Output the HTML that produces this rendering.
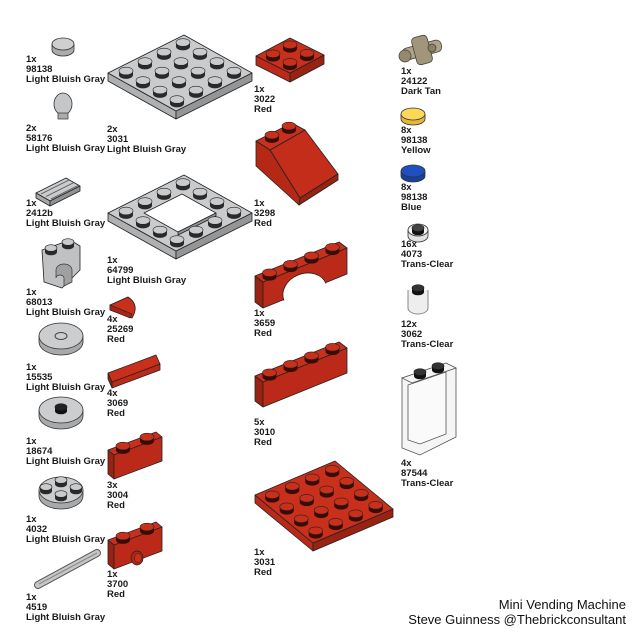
<!DOCTYPE html>
<html><head><meta charset="utf-8">
<style>
body{margin:0;background:#fff;width:640px;height:640px;overflow:hidden;position:relative;font-family:"Liberation Sans",sans-serif}
svg{position:absolute;left:0;top:0}
.l{position:absolute;font-weight:bold;font-size:9.5px;line-height:10px;color:#1a1a1a;white-space:nowrap}
.f{position:absolute;right:14px;font-size:13px;line-height:15px;color:#111;text-align:right;white-space:nowrap}
</style></head><body>
<svg id="s" width="640" height="640" viewBox="0 0 640 640"></svg>

<div class="l" style="left:26px;top:55px">1x<br>98138<br>Light Bluish Gray</div>
<div class="l" style="left:26px;top:124px">2x<br>58176<br>Light Bluish Gray</div>
<div class="l" style="left:107px;top:125px">2x<br>3031<br>Light Bluish Gray</div>
<div class="l" style="left:26px;top:199px">1x<br>2412b<br>Light Bluish Gray</div>
<div class="l" style="left:107px;top:256px">1x<br>64799<br>Light Bluish Gray</div>
<div class="l" style="left:26px;top:288px">1x<br>68013<br>Light Bluish Gray</div>
<div class="l" style="left:107px;top:315px">4x<br>25269<br>Red</div>
<div class="l" style="left:26px;top:363px">1x<br>15535<br>Light Bluish Gray</div>
<div class="l" style="left:107px;top:389px">4x<br>3069<br>Red</div>
<div class="l" style="left:26px;top:437px">1x<br>18674<br>Light Bluish Gray</div>
<div class="l" style="left:107px;top:481px">3x<br>3004<br>Red</div>
<div class="l" style="left:26px;top:515px">1x<br>4032<br>Light Bluish Gray</div>
<div class="l" style="left:107px;top:570px">1x<br>3700<br>Red</div>
<div class="l" style="left:26px;top:593px">1x<br>4519<br>Light Bluish Gray</div>

<div class="l" style="left:254px;top:85px">1x<br>3022<br>Red</div>
<div class="l" style="left:254px;top:199px">1x<br>3298<br>Red</div>
<div class="l" style="left:254px;top:309px">1x<br>3659<br>Red</div>
<div class="l" style="left:254px;top:418px">5x<br>3010<br>Red</div>
<div class="l" style="left:254px;top:548px">1x<br>3031<br>Red</div>

<div class="l" style="left:401px;top:67px">1x<br>24122<br>Dark Tan</div>
<div class="l" style="left:401px;top:126px">8x<br>98138<br>Yellow</div>
<div class="l" style="left:401px;top:183px">8x<br>98138<br>Blue</div>
<div class="l" style="left:401px;top:240px">16x<br>4073<br>Trans-Clear</div>
<div class="l" style="left:401px;top:320px">12x<br>3062<br>Trans-Clear</div>
<div class="l" style="left:401px;top:459px">4x<br>87544<br>Trans-Clear</div>

<div class="f" style="top:597px">Mini Vending Machine</div>
<div class="f" style="top:612px">Steve Guinness @Thebrickconsultant</div>

<script>
var o=[];
var G={t:"#c9cbcd",f:"#aeb0b2",s:"#939597",d:"#2a2a2a"};
var R={t:"#c9301c",f:"#bb2a18",s:"#9a2212",d:"#3a0c06"};
function P(p){return p.map(function(q){return q[0].toFixed(1)+","+q[1].toFixed(1)}).join(" ")}
function poly(p,f){o.push('<polygon points="'+P(p)+'" fill="'+f+'" stroke="#222" stroke-width="0.8" stroke-linejoin="round"/>')}
function ad(v,w,k){return [v[0]+w[0]*k,v[1]+w[1]*k]}
function stud(x,y,r,c){
 var ry=r*0.55;
 o.push('<ellipse cx="'+x+'" cy="'+y+'" rx="'+r+'" ry="'+ry+'" fill="'+c.d+'"/>');
 o.push('<rect x="'+(x-r)+'" y="'+(y-4)+'" width="'+(2*r)+'" height="4" fill="'+c.d+'"/>');
 o.push('<ellipse cx="'+x+'" cy="'+(y-4)+'" rx="'+r+'" ry="'+ry+'" fill="'+c.t+'" stroke="#222" stroke-width="0.6"/>');
}
function studsOn(P0,a,na,b,nb,r,c,skip){
  var L=[];
  for(var j=0;j<nb;j++)for(var i=0;i<na;i++){
   if(skip&&i>0&&i<na-1&&j>0&&j<nb-1)continue;
   L.push(ad(ad(P0,a,i+.5),b,j+.5));}
  L.sort(function(u,v){return u[1]-v[1]});
  L.forEach(function(q){stud(q[0],q[1]+2,r,c)});
}
function box(P0,a,na,b,nb,h,c,studs,r,skip){
 var P1=ad(P0,a,na),P2=ad(P1,b,nb),P3=ad(P0,b,nb),H=[0,h];
 poly([P0,P1,ad(P1,H,1),ad(P0,H,1)],c.f);
 poly([P1,P2,ad(P2,H,1),ad(P1,H,1)],c.s);
 poly([P0,P1,P2,P3],c.t);
 if(skip){var q=ad(ad(P0,a,1),b,1);poly([q,ad(q,a,2),ad(ad(q,a,2),b,2),ad(q,b,2)],"#fff");
   poly([ad(q,a,2),ad(ad(q,a,2),b,2),ad(ad(ad(q,a,2),b,2),[0,3],1),ad(ad(q,a,2),[0,3],1)],c.s);}
 if(studs)studsOn(P0,a,na,b,nb,r,c,skip);
}
function box2(P0,a,na,b,nb,h,c,studs,r){
 var P1=ad(P0,a,na),P2=ad(P1,b,nb),P3=ad(P0,b,nb),H=[0,h];
 poly([P3,P0,ad(P0,H,1),ad(P3,H,1)],c.s);
 poly([P0,P1,ad(P1,H,1),ad(P0,H,1)],c.f);
 poly([P0,P1,P2,P3],c.t);
 if(studs)studsOn(P0,a,na,b,nb,r,c);
}
function cyl(cx,cy,rx,ry,h,t,s){
 o.push('<path d="M'+(cx-rx)+','+cy+' v'+h+' a'+rx+','+ry+' 0 0 0 '+(2*rx)+',0 v'+(-h)+'" fill="'+s+'" stroke="#333" stroke-width="0.8"/>');
 o.push('<ellipse cx="'+cx+'" cy="'+cy+'" rx="'+rx+'" ry="'+ry+'" fill="'+t+'" stroke="#333" stroke-width="0.8"/>');
}
box([108,73],[17,9.5],4,[19,-9.5],4,8,G,1,7);
box([108,213],[17,9.5],4,[19,-9.5],4,8,G,1,7,1);
box([256,56],[17,8.5],2,[17,-9],2,9,R,1,7);
box([255,495],[14.5,12],4,[20,-8.5],4,8,R,1,7);
box2([263,382],[21,-8.5],4,[-8,-6],1,25,R,1,7);
box2([263,282],[21,-8.5],4,[-8,-6],1,26,R,1,7);
o.push('<path d="M284,300.5 A21,17 -22 0 1 326,283.5 L327,284 L285,302 Z" fill="#fff"/>');
o.push('<path d="M284,300.5 A21,17 -22 0 1 326,283.5" fill="none" stroke="#222" stroke-width="0.8"/>');
box2([114,455],[24,-9],2,[-6,-5],1,24,R,1,7);
box2([114,545],[24,-9],2,[-6,-5],1,24,R,1,7);
o.push('<ellipse cx="137" cy="558" rx="6" ry="7" fill="#b02616" stroke="#222" stroke-width="0.7"/><ellipse cx="138" cy="558" rx="3.5" ry="4.5" fill="#c9301c" stroke="#222" stroke-width="0.5"/>');
box2([112,382],[24,-9],2,[-4,-9],1,6,R,0);
o.push('<path d="M110,305 L128,297 Q140,305 132,318 L110,310 Z" fill="#c9301c" stroke="#222" stroke-width="0.8"/><path d="M110,305 v5 L130,318 L132,314 Z" fill="#a82414" stroke="#222" stroke-width="0.6"/>');
poly([[256,141],[270,150],[300,198],[299,205],[256,166]],"#b52815");
poly([[270,150],[305,130],[338,174],[300,198]],"#c42d1a");
poly([[256,141],[292,123],[305,130],[270,150]],"#c9301c");
poly([[300,198],[338,174],[338,180],[299,205]],"#9a2212");
stud(272,139,7,R);stud(289,130,7,R);
cyl(63,44,11,6,6,"#cdcfd1","#a9abad");
o.push('<ellipse cx="63" cy="104" rx="9" ry="11" fill="#c4c6c8" stroke="#333" stroke-width="0.8"/><rect x="58" y="113" width="10" height="6" fill="#a9abad" stroke="#333" stroke-width="0.7"/>');
poly([[36,193],[66,178],[80,186],[50,201]],"#c9cbcd");
poly([[36,193],[50,201],[50,206],[36,198]],"#a5a7a9");
poly([[50,201],[80,186],[80,191],[50,206]],"#8f9193");
for(var k=0;k<3;k++){o.push('<line x1="'+(41+k*5)+'" y1="'+(194+k*2.5)+'" x2="'+(69+k*5)+'" y2="'+(180+k*2.5)+'" stroke="#555" stroke-width="0.8"/>');}
poly([[42,250],[70,240],[80,246],[80,270],[62,288],[44,282]],"#bfc1c3");
o.push('<path d="M56,270 a8,6 0 0 1 16,0 v12 l-8,4 v-8 a4,3 0 0 0 -8,0 z" fill="#9ea0a2" stroke="#333" stroke-width="0.7"/>');
stud(51,252,6,G);stud(68,246,6,G);
cyl(61,336,22,13,6,"#cbcdcf","#a7a9ab");o.push('<ellipse cx="61" cy="336" rx="6" ry="3.5" fill="none" stroke="#444"/>');
cyl(61,410,22,13,6,"#cbcdcf","#a7a9ab");stud(61,411,6,{d:"#111",t:"#222"});
cyl(61,490,22,13,6,"#cbcdcf","#a7a9ab");
stud(61,484,6,G);stud(46,491,6,G);stud(76,491,6,G);stud(61,498,6,G);
o.push('<line x1="38" y1="585" x2="97" y2="553" stroke="#555" stroke-width="8" stroke-linecap="round"/><line x1="38" y1="585" x2="97" y2="553" stroke="#c4c6c8" stroke-width="6" stroke-linecap="round"/><line x1="39" y1="584" x2="97" y2="553" stroke="#888" stroke-width="1"/>');
o.push('<g stroke="#444" stroke-width="0.8"><rect x="402" y="44" width="40" height="12" rx="5" fill="#b0a488" transform="rotate(-15 422 50)"/><rect x="414" y="36" width="16" height="28" rx="4" fill="#a1957a" transform="rotate(-15 422 50)"/><circle cx="405" cy="56" r="6" fill="#958a70"/><circle cx="432" cy="48" r="4" fill="#8a8068"/></g>');
cyl(413,114,12,6,5,"#fbd85a","#e3b838");
cyl(413,171,12,6,5,"#1f4fc0","#173f9e");
cyl(418,230,10,6,6,"#f4f4f4","#e2e2e2");stud(418,232,6,{d:"#111",t:"#444"});
o.push('<path d="M408,290 v18 a10,6 0 0 0 20,0 v-18" fill="#eee" stroke="#888"/>');stud(418,292,6,{d:"#111",t:"#333"});
o.push('<g fill="#f5f5f5" stroke="#555" stroke-width="0.8"><polygon points="402,378 446,363 456,368 456,437 420,455 402,448"/><polygon points="408,385 446,372 446,434 420,444 408,440" fill="#fafafa"/><polygon points="402,378 446,363 456,368 412,383"/></g>');
stud(420,376,6,{d:"#111",t:"#333"});stud(438,370,6,{d:"#111",t:"#333"});
document.getElementById("s").innerHTML=o.join("");
</script>
</body></html>
